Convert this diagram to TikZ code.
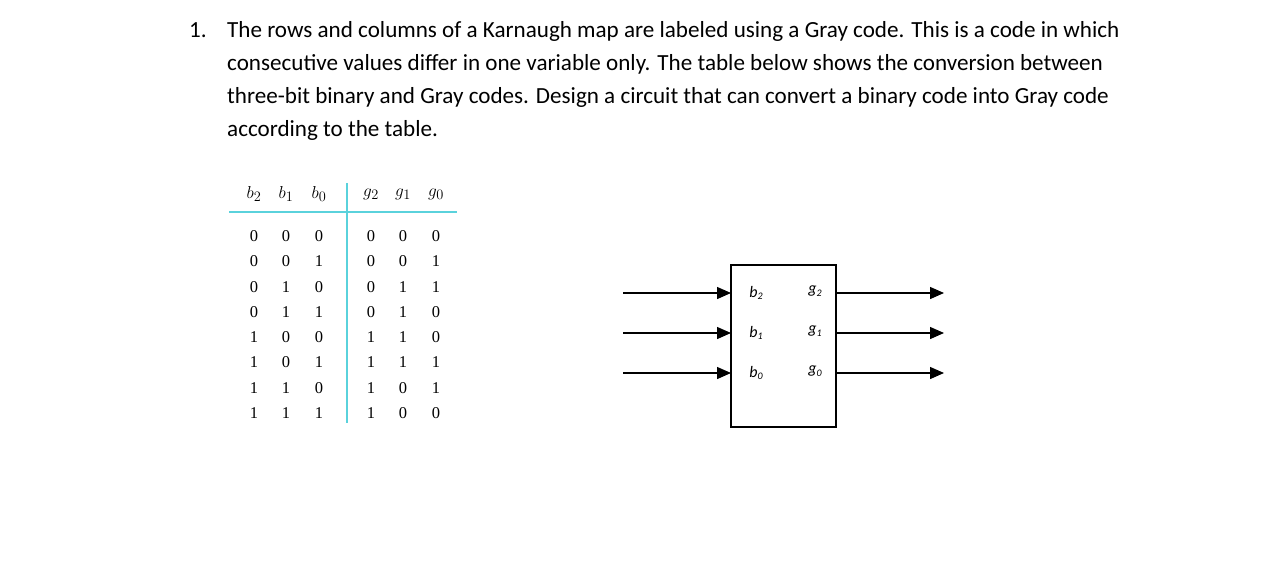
\documentclass[tikz,border=0pt]{standalone}
\usepackage{fontspec}
\setmainfont{Carlito}
\newfontfamily\tabfont{Liberation Serif}
\usetikzlibrary{arrows.meta}
\definecolor{tcyan}{RGB}{90,210,220}
\newcommand{\mysub}[1]{\raisebox{-0.35ex}{\fontsize{10}{12}\selectfont #1}}
\begin{document}
\begin{tikzpicture}[x=1pt,y=-1pt,
  para/.style={anchor=base west,inner sep=0pt,font=\fontsize{23.1}{26}\selectfont},
  cell/.style={inner sep=0pt,font=\tabfont\fontsize{16.5}{18}\selectfont},
  hd/.style={inner sep=0pt,font=\fontsize{19}{21}\selectfont},
  lbl/.style={inner sep=0pt,font=\fontsize{16}{18}\selectfont\itshape},
  wire/.style={line width=1.4pt,-{Triangle[length=14pt,width=12pt]}},
  tline/.style={color=tcyan,line width=1.6pt}]
\useasboundingbox (0,0) rectangle (1284,573);
\node[para] (n1) at (189,37) {1.};
\node[para] (l1) at (227,37) {The rows and columns of a Karnaugh map are labeled using a Gray code. This is a code in which};
\node[para] (l2) at (227,70) {consecutive values differ in one variable only. The table below shows the conversion between};
\node[para] (l3) at (227,103) {three-bit binary and Gray codes. Design a circuit that can convert a binary code into Gray code};
\node[para] (l4) at (227,136) {according to the table.};
% table
\draw[tline] (229,212) -- (457,212);
\draw[tline] (347,183) -- (347,423);
\foreach \x/\t in {254/b_2,286/b_1,319/b_0,371/g_2,403/g_1,436/g_0}
  \node[hd] (h\x) at (\x,194) {$\t$};
\foreach \da/\db/\dc/\dd/\de/\df [count=\i from 0] in
  {0/0/0/0/0/0,0/0/1/0/0/1,0/1/0/0/1/1,0/1/1/0/1/0,1/0/0/1/1/0,1/0/1/1/1/1,1/1/0/1/0/1,1/1/1/1/0/0}{
    \pgfmathsetmacro{\yy}{236+25.3*\i}
    \node[cell] (c\i a) at (254,\yy) {\da};
    \node[cell] (c\i b) at (286,\yy) {\db};
    \node[cell] (c\i c) at (319,\yy) {\dc};
    \node[cell] (c\i d) at (371,\yy) {\dd};
    \node[cell] (c\i e) at (403,\yy) {\de};
    \node[cell] (c\i f) at (436,\yy) {\df};
}
% box
\node[draw,line width=1.8pt,minimum width=105pt,minimum height=162pt,inner sep=0pt] (box) at (783.5,346) {};
\foreach \y/\k in {293/2,333/1,373/0}{
  \coordinate (in\k) at (623,\y);
  \coordinate (bi\k) at (731,\y);
  \coordinate (bo\k) at (836,\y);
  \coordinate (out\k) at (944,\y);
  \draw[wire] (in\k) -- (bi\k);
  \draw[wire] (bo\k) -- (out\k);
  \node[lbl] (lb\k) at (756,\y) {b\mysub{\k}};
  \node[lbl] (lg\k) at (815,\y-2) {g\mysub{\k}};
}
\end{tikzpicture}
\end{document}
